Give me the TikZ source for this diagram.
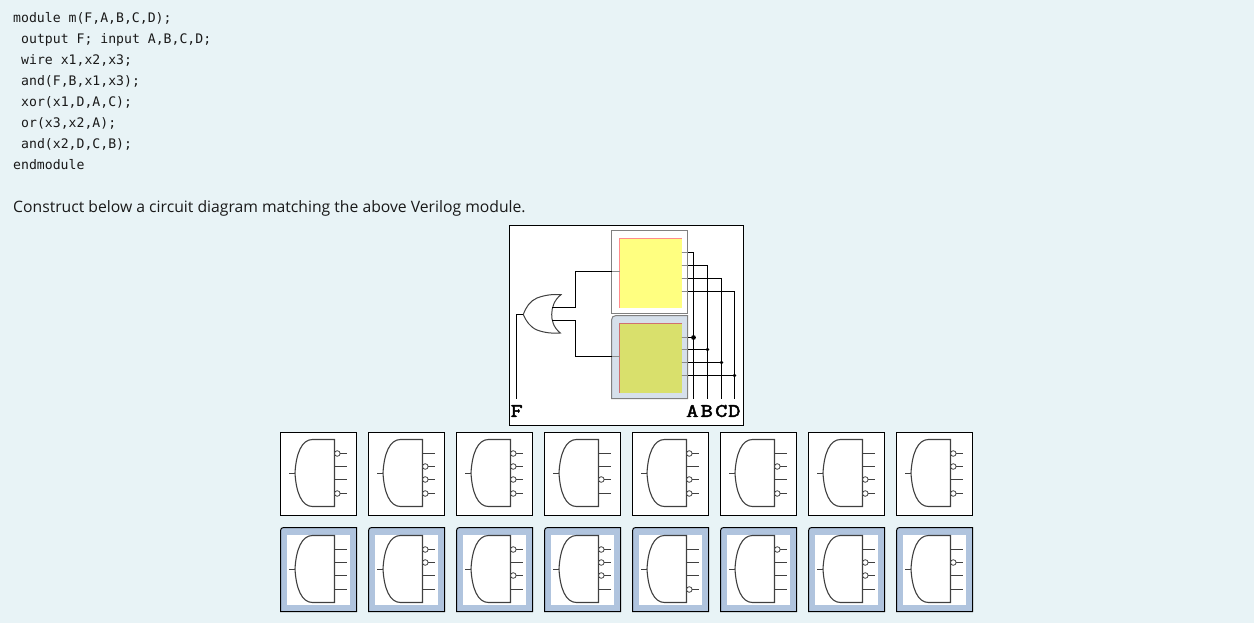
\documentclass[tikz,border=0pt]{standalone}
\usepackage{fontspec}
\setmainfont{Open Sans}
\newfontfamily\codefont{DejaVu Sans Mono}
\newfontfamily\pinfont[FakeBold=2.5,FakeStretch=1.25]{Latin Modern Mono}
\usetikzlibrary{positioning,calc}

\definecolor{pagebg}{HTML}{E8F3F6}
\definecolor{cardblue}{HTML}{B0C4DE}
\definecolor{slotblue}{HTML}{D6E0EB}
\definecolor{gateink}{HTML}{404040}
\definecolor{lemon}{HTML}{FFFF80}
\definecolor{olive}{HTML}{D9E06C}

\tikzset{
  code/.style={anchor=base west, inner sep=0, text=black!90, font=\codefont\fontsize{13.15}{13.15}\selectfont},
  wire/.style={draw=black, line width=1pt},
  stub/.style={draw=black!45, line width=1pt},
  gateline/.style={draw=gateink, line width=1.1pt},
  card/.style={minimum width=76pt, minimum height=83pt, inner sep=0, outer sep=0, draw=black, fill=white, line width=1pt},
  bluecard/.style={minimum width=76pt, minimum height=84pt, inner sep=0, outer sep=0},
  inset/.style={minimum width=63.5pt, minimum height=70pt, inner sep=0, outer sep=0, fill=white},
  bubble/.style={circle, minimum size=5.6pt, inner sep=0, outer sep=0, draw=gateink, fill=white, line width=.8pt},
  dot/.style={circle, minimum size=3.8pt, inner sep=0, outer sep=0, fill=black},
  slotfill/.style={minimum width=62pt, minimum height=69.5pt, inner sep=0, outer sep=0},
  slot/.style={minimum width=76pt, minimum height=83pt, inner sep=0, outer sep=0},
  pinlabel/.style={inner sep=0, font=\pinfont\fontsize{19}{19}\selectfont},
}

\newcommand{\gatepin}[3]{%
  \coordinate (#1e) at (66.4,#2);
  \ifnum#3=1
    \node[bubble] (#1b) at (56.8,#2) {};
    \draw[gateline] (#1b) to (#1e);
  \else
    \coordinate (#1s) at (54,#2);
    \draw[gateline] (#1s) to (#1e);
  \fi}

\newcommand{\gatebody}[6][0]{%
  \begin{scope}[shift={($(#2.west)+(0,#1)$)}]
    \draw[gateline] (32,-34.5) -- (54,-34.5) -- (54,32.5) -- (32,32.5)
      .. controls (21,32.5) and (15.5,18) .. (14.5,-1)
      .. controls (15.5,-20) and (21,-34.5) .. (32,-34.5) -- cycle;
    \coordinate (#2i) at (8.7,-.5);
    \coordinate (#2j) at (14.5,-.5);
    \draw[gateline] (#2i) to (#2j);
    \gatepin{#2p1}{-20.5}{#3}
    \gatepin{#2p2}{-7.5}{#4}
    \gatepin{#2p3}{5.5}{#5}
    \gatepin{#2p4}{19.5}{#6}
  \end{scope}}

\newcommand{\cutcorner}[3]{%
  \draw[#2] (#1.south west) -- ($(#1.north west)+(0,#3)$)
    .. controls (#1.north west) .. ($(#1.north west)+(#3,0)$)
    -- (#1.north east) -- (#1.south east) -- cycle;}

\begin{document}
\begin{tikzpicture}[x=1pt, y=-1pt]
  \fill[pagebg] (0,0) rectangle (1254,623);
  \useasboundingbox (0,0) rectangle (1254,623);

  \node[code] (l1) at (13,22.7) {module m(F,A,B,C,D);};
  \node[code] (l2) at (21,43.7) {output F; input A,B,C,D;};
  \node[code] (l3) at (21,64.7) {wire x1,x2,x3;};
  \node[code] (l4) at (21,85.7) {and(F,B,x1,x3);};
  \node[code] (l5) at (21,106.7) {xor(x1,D,A,C);};
  \node[code] (l6) at (21,127.7) {or(x3,x2,A);};
  \node[code] (l7) at (21,148.7) {and(x2,D,C,B);};
  \node[code] (l8) at (13,169.7) {endmodule};
  \node (q) [anchor=base west, inner sep=0, text=black!90, font=\fontsize{15.72}{15.72}\selectfont] at (13,212) {Construct below a circuit diagram matching the above Verilog module.};

  \node (board) [draw=black, fill=white, line width=1pt, minimum width=234pt, minimum height=200pt, inner sep=0, outer sep=0] at (626.5,325.5) {};

  \node (top) [slot, draw=black!50, fill=white, line width=1pt] at (649.5,272) {};
  \node (bot) [slot, below=2pt of top] {};
  \cutcorner{bot}{draw=black!50, fill=slotblue, line width=1pt}{10}

  \node (topfill) [slotfill, fill=lemon] at (650.5,273.25) {};
  \node (botfill) [slotfill, fill=olive] at (650.5,358.25) {};
  \draw[draw={rgb,255:red,255;green,140;blue,140}, line width=1pt] (topfill.south west) -- (topfill.north west) -- (topfill.north east);
  \draw[draw={rgb,255:red,208;green,112;blue,112}, line width=1pt] (botfill.south west) -- (botfill.north west) -- (botfill.north east);

  % or gate
  \draw[gateline, line width=1pt, fill=white] (561,294.7) .. controls (553,294) and (545,295) .. (537,298)
    .. controls (530,301) and (526,307) .. (523.3,314.5)
    .. controls (526,321) and (530,327) .. (537,330)
    .. controls (545,333) and (553,333.5) .. (560.3,333)
    .. controls (553,327) and (551.7,320) .. (551.7,314.5)
    .. controls (551.7,308) and (554,300) .. (561,294.7) -- cycle;

  \coordinate (orout) at (523.3,314.5);
  \coordinate (orin1) at (552,307.5);
  \coordinate (orin2) at (552,320.5);
  \coordinate (bend1) at (575.5,307.5);
  \coordinate (bend2) at (575.5,320.5);
  \coordinate (topin) at (topfill.west |- 0,271.5);
  \coordinate (botin) at (botfill.west |- 0,356.5);
  \coordinate (endF) at (516.5,398.5);
  \coordinate (endA) at (693.5,398.5);
  \coordinate (endB) at (707.5,398.5);
  \coordinate (endC) at (721.5,398.5);
  \coordinate (endD) at (734.5,398.5);
  \coordinate (topA) at (681.5,252.5);
  \coordinate (topB) at (681.5,265.5);
  \coordinate (topC) at (681.5,278.5);
  \coordinate (topD) at (681.5,291.5);
  \coordinate (botA) at (681.5,337.5);
  \coordinate (botB) at (681.5,349.5);
  \coordinate (botC) at (681.5,362.5);
  \coordinate (botD) at (681.5,375.5);

  \node[dot, minimum size=4.8pt] (dotA) at (693.5,337.5) {};
  \node[dot] (dotB) at (707.5,349.5) {};
  \node[dot] (dotC) at (721.5,362.5) {};
  \node[dot] (dotD) at (734.5,375.5) {};

  \draw[wire] (orout) -| (endF);
  \draw[wire] (orin1) -- (bend1) |- (topin);
  \draw[wire] (orin2) -- (bend2) |- (botin);
  \draw[wire] (topA) -| (endA);
  \draw[wire] (topB) -| (endB);
  \draw[wire] (topC) -| (endC);
  \draw[wire] (topD) -| (endD);
  \draw[wire] (botA) to (dotA);
  \draw[wire] (botB) to (dotB);
  \draw[wire] (botC) to (dotC);
  \draw[wire] (botD) to (dotD);

  \draw[stub] (topin) to (topin -| top.west);
  \draw[stub] (botin) to (botin -| bot.west);
  \draw[stub] (topA) to (topA -| top.east);
  \draw[stub] (topB) to (topB -| top.east);
  \draw[stub] (topC) to (topC -| top.east);
  \draw[stub] (topD) to (topD -| top.east);
  \draw[stub] (botA) to (botA -| bot.east);
  \draw[stub] (botB) to (botB -| bot.east);
  \draw[stub] (botC) to (botC -| bot.east);
  \draw[stub] (botD) to (botD -| bot.east);

  \node[pinlabel] (F) at (516.7,411) {F};
  \node[pinlabel] (A) at (692.3,411) {A};
  \node[pinlabel] (B) at (706.7,411) {B};
  \node[pinlabel] (C) at (721.3,411) {C};
  \node[pinlabel] (D) at (734.3,411) {D};

  \node (c11) [card] at (318.5,474) {};
  \node (c12) [card, right=12pt of c11] {};
  \node (c13) [card, right=12pt of c12] {};
  \node (c14) [card, right=12pt of c13] {};
  \node (c15) [card, right=12pt of c14] {};
  \node (c16) [card, right=12pt of c15] {};
  \node (c17) [card, right=12pt of c16] {};
  \node (c18) [card, right=12pt of c17] {};

  \node (c21) [bluecard] at (318.5,569.5) {};
  \node (c22) [bluecard, right=12pt of c21] {};
  \node (c23) [bluecard, right=12pt of c22] {};
  \node (c24) [bluecard, right=12pt of c23] {};
  \node (c25) [bluecard, right=12pt of c24] {};
  \node (c26) [bluecard, right=12pt of c25] {};
  \node (c27) [bluecard, right=12pt of c26] {};
  \node (c28) [bluecard, right=12pt of c27] {};

  \cutcorner{c21}{draw=black, fill=cardblue, line width=1pt}{7}
  \cutcorner{c22}{draw=black, fill=cardblue, line width=1pt}{7}
  \cutcorner{c23}{draw=black, fill=cardblue, line width=1pt}{7}
  \cutcorner{c24}{draw=black, fill=cardblue, line width=1pt}{7}
  \cutcorner{c25}{draw=black, fill=cardblue, line width=1pt}{7}
  \cutcorner{c26}{draw=black, fill=cardblue, line width=1pt}{7}
  \cutcorner{c27}{draw=black, fill=cardblue, line width=1pt}{7}
  \cutcorner{c28}{draw=black, fill=cardblue, line width=1pt}{7}

  \node (w21) [inset] at (c21) {};
  \node (w22) [inset] at (c22) {};
  \node (w23) [inset] at (c23) {};
  \node (w24) [inset] at (c24) {};
  \node (w25) [inset] at (c25) {};
  \node (w26) [inset] at (c26) {};
  \node (w27) [inset] at (c27) {};
  \node (w28) [inset] at (c28) {};

  \gatebody{c11}{1}{0}{0}{1}
  \gatebody{c12}{0}{1}{1}{1}
  \gatebody{c13}{1}{1}{1}{1}
  \gatebody{c14}{0}{0}{1}{0}
  \gatebody{c15}{1}{0}{1}{1}
  \gatebody{c16}{0}{1}{0}{1}
  \gatebody{c17}{0}{0}{1}{1}
  \gatebody{c18}{1}{1}{0}{1}

  \gatebody[.5]{c21}{0}{0}{0}{0}
  \gatebody[.5]{c22}{1}{1}{0}{0}
  \gatebody[.5]{c23}{1}{0}{1}{0}
  \gatebody[.5]{c24}{1}{1}{1}{0}
  \gatebody[.5]{c25}{0}{0}{0}{1}
  \gatebody[.5]{c26}{1}{0}{0}{0}
  \gatebody[.5]{c27}{0}{1}{1}{0}
  \gatebody[.5]{c28}{0}{1}{0}{0}
\end{tikzpicture}
\end{document}
